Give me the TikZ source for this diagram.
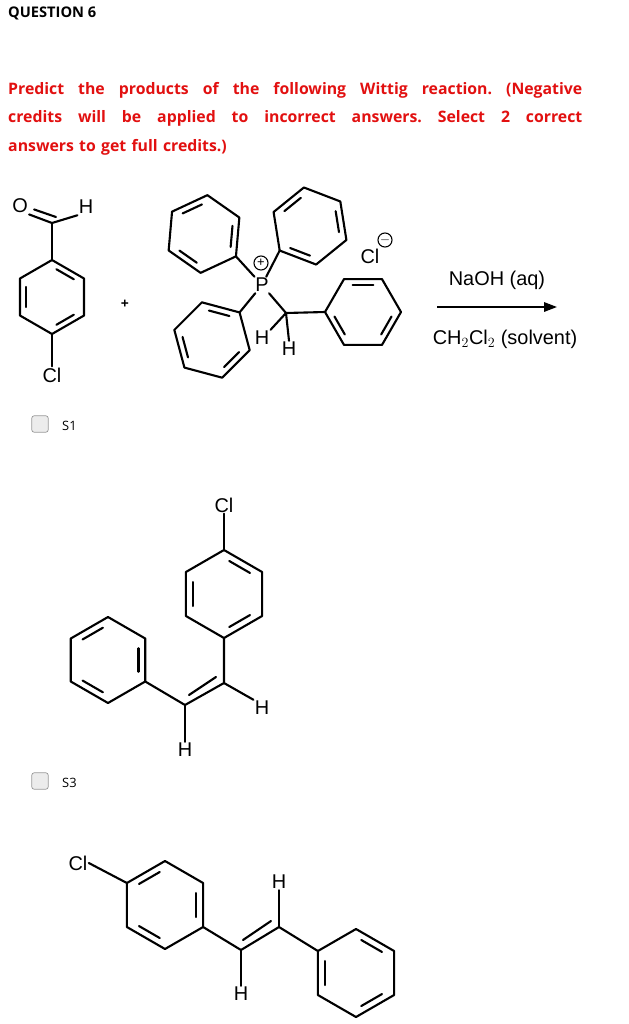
\documentclass[tikz,border=0pt]{standalone}
\usepackage{fontspec}
\setmainfont{Open Sans}
\newfontfamily\chem{Liberation Sans}
\usetikzlibrary{calc,arrows.meta}
\definecolor{qred}{RGB}{226,16,16}
\newcommand\ring[5]{%
  \pgfmathsetmacro\rr{0.76*#3}%
  \draw[bond] ($(#1,#2)+(#4:#3)$) -- ($(#1,#2)+(#4+60:#3)$) -- ($(#1,#2)+(#4+120:#3)$) -- ($(#1,#2)+(#4+180:#3)$) -- ($(#1,#2)+(#4+240:#3)$) -- ($(#1,#2)+(#4+300:#3)$) -- cycle;
  \foreach \e in {#5}{\draw[bond] ($(#1,#2)+(#4+60*\e+9:\rr)$) -- ($(#1,#2)+(#4+60*\e+51:\rr)$);}%
}
\tikzset{bond/.style={line width=1.8pt,line cap=round,line join=round},
  atom/.style={font=\chem\fontsize{17}{19}\selectfont,inner sep=1pt},
  redline/.style={anchor=west,text=qred,font=\frenchspacing\bfseries\fontsize{13.5}{15}\selectfont,inner sep=0pt,text width=490pt,align=justify},
  cbox/.style={draw=gray!80,fill=gray!15,rounded corners=2pt,minimum size=14pt,inner sep=0pt,line width=0.6pt},
  opt/.style={anchor=west,font=\fontsize{11}{13}\selectfont,inner sep=0pt}}
\begin{document}
\begin{tikzpicture}[x=0.03cm,y=-0.03cm]
\useasboundingbox[fill=white] (0,0) rectangle (629,1024);
\node[anchor=west,font=\bfseries\fontsize{12.5}{14}\selectfont,inner sep=0pt] (title) at (8,13) {QUESTION 6};
\node[redline] (l1) at (8,90) {\frenchspacing Predict the products of the following Wittig reaction. (Negative\parfillskip=0pt\par};
\node[redline] (l2) at (8,118) {\frenchspacing credits will be applied to incorrect answers. Select 2 correct\parfillskip=0pt\par};
\node[redline,align=left] (l3) at (8,147) {answers to get full credits.)};
% reactant 1
\ring{52}{297}{37}{90}{1,3,5}
\coordinate (c1) at (52,223);
\draw[bond] (52,260) -- (c1);
\node[atom] (o1) at (20,206) {O};
\node[atom] (h1) at (86,207) {H};
\draw[bond] (c1) -- (h1.south west);
\draw[bond] (c1) -- (o1.south east);
\draw[bond] ($(c1)+(4,-6)$) -- ($(o1.south east)+(5,-5)$);
\node[atom] (cl1) at (52,375) {Cl};
\draw[bond] (52,334) -- (cl1.north);
\node[font=\bfseries\fontsize{12}{12}\selectfont] (plus) at (125,304) {+};
% phosphonium
\node[atom] (P) at (262,285) {P};
\node[draw,circle,inner sep=0pt,minimum size=12pt,line width=0.9pt,font=\chem\fontsize{11}{11}\selectfont] (pc) at (261,263) {+};
\ring{204}{234}{39}{35}{1,3,5}
\ring{310}{226}{39}{141}{1,3,5}
\ring{212}{340}{39}{-45}{1,3,5}
\ring{363}{312}{38}{180}{1,3,5}
\coordinate (CH) at (286,313);
\draw[bond] (P) -- ($(204,234)+(35:39)$);
\draw[bond] (P) -- ($(310,226)+(141:39)$);
\draw[bond] (P) -- ($(212,340)+(-45:39)$);
\draw[bond] (P) -- (CH) -- (325,312);
\node[atom] (ha) at (262,338) {H};
\node[atom] (hb) at (289,349) {H};
\draw[bond] (CH) -- (ha.north east);
\draw[bond] (CH) -- (hb.north);
\node[atom] (clm) at (370,256) {Cl};
\node[draw,circle,inner sep=0pt,minimum size=12pt,line width=0.9pt,font=\chem\fontsize{11}{11}\selectfont] (mc) at (385,240) {$-$};
% arrow
\coordinate (a0) at (437,307); \coordinate (a1) at (557,307);
\draw[line width=1.5pt,-{Triangle[length=11pt,width=8pt]}] (a0) -- (a1);
\node[atom] (naoh) at (497,280) {NaOH (aq)};
\node[atom] (solv) at (505,339) {CH$_2$Cl$_2$ (solvent)};
% options
\node[cbox] (b1) at (40,424) {};
\node[opt] (s1) at (62,426) {S1};
\node[cbox] (b3) at (40,781) {};
\node[opt] (s3) at (62,783) {S3};
% S1 product
\node[atom] (cl2) at (224,505) {Cl};
\draw[bond] (cl2.south) -- (224,550);
\ring{224}{594}{44}{90}{1,3,5}
\ring{108}{660}{43}{30}{1,3,5}
\coordinate (v1) at (224,683); \coordinate (v2) at (185,705);
\draw[bond] (224,638) -- (v1) -- (v2) -- ($(108,660)+(30:43)$);
\draw[bond] ($(v1)+(-8,-6)$) -- ($(v2)+(4,-10)$);
\node[atom] (h2) at (262,708) {H};
\node[atom] (h3) at (185,750) {H};
\draw[bond] (v1) -- (h2.north west);
\draw[bond] (v2) -- (h3.north);
% S3 product
\ring{165}{905}{44}{30}{1,3,5}
\node[atom] (cl3) at (78,863) {Cl};
\draw[bond] (cl3.east) -- ($(165,905)+(210:44)$);
\ring{356}{973}{44}{210}{1,3,5}
\coordinate (w1) at (241,950); \coordinate (w2) at (279,927);
\draw[bond] ($(165,905)+(30:44)$) -- (w1) -- (w2) -- ($(356,973)+(210:44)$);
\draw[bond] ($(w1)+(2,-10)$) -- ($(w2)+(-8,-6)$);
\node[atom] (h4) at (241,994) {H};
\node[atom] (h5) at (279,882) {H};
\draw[bond] (w1) -- (h4.north);
\draw[bond] (w2) -- (h5.south);
\end{tikzpicture}
\end{document}
